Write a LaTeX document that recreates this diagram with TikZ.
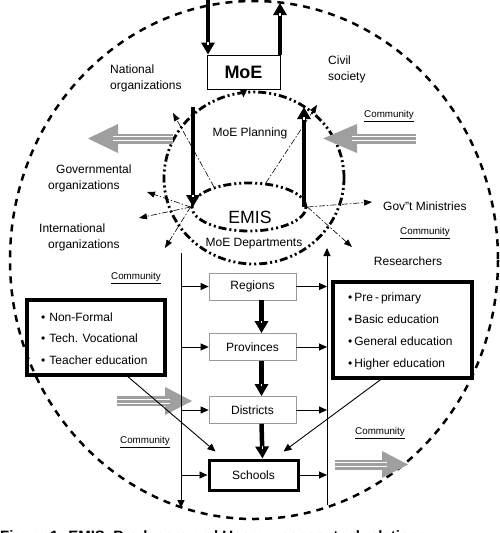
\documentclass[tikz,border=0pt]{standalone}
\usepackage{fontspec}
\setmainfont{Liberation Sans}
\usetikzlibrary{arrows.meta, shapes.geometric, positioning}

\tikzset{
  boundary/.style={line width=2.5pt, dash pattern=on 7pt off 6pt},
  ring/.style={draw, line width=2.8pt, dash pattern=on 8pt off 3pt on 2pt off 3pt on 2pt off 3pt},
  lbl/.style={font=\fontsize{12}{16}\selectfont, inner sep=0pt},
  commlbl/.style={font=\fontsize{9.8}{11}\selectfont, inner sep=0pt},
  moebox/.style={draw, line width=0.8pt, minimum width=73pt, minimum height=34pt, inner sep=0pt, font=\bfseries\fontsize{18}{20}\selectfont},
  levelbox/.style={draw=gray!80, line width=0.7pt, minimum width=87pt, minimum height=27pt, inner sep=0pt, font=\fontsize{12}{14}\selectfont},
  schoolbox/.style={draw=black, line width=3pt, minimum width=89pt, minimum height=30pt},
  listbox/.style={draw, line width=3.5pt, inner sep=0pt},
  bigarrow/.style={line width=4.5pt, -{Triangle[length=12pt, width=13pt]}},
  levelarrow/.style={line width=4.5pt, -{Triangle[length=12pt, width=13pt]}},
  thinarrow/.style={line width=0.9pt, -{Triangle[length=8pt, width=7pt]}},
  linkarrow/.style={line width=0.6pt, dash pattern=on 6pt off 2pt on 1.5pt off 2pt, -{Triangle[length=8pt, width=6pt]}},
  commgray/.style={fill=gray!75},
  commstripe/.style={draw=white, line width=0.9pt},
  notch/.style={draw=white, line width=1.6pt},
}

\begin{document}
\begin{tikzpicture}[x=1pt, y=-1pt]
  \useasboundingbox (0,0) rectangle (500,533);
  \clip (0,0) rectangle (500,533);

  % outer boundary
  \draw[boundary] (254,260) ellipse [x radius=244, y radius=259];

  % MoE
  \node[moebox] (moe) at (243.5,72) {MoE};
  \coordinate (inflow) at (208,-5);
  \coordinate (outflow) at (280,3);
  \draw[bigarrow] (inflow) -- (inflow |- moe.north);
  \draw[bigarrow] (outflow |- moe.north) -- (outflow);
  \draw[notch] ([yshift=12.5pt]inflow |- moe.north) -- ++(0,2.5);
  \draw[notch] ([yshift=-12.5pt]outflow) -- ++(0,-2.5);

  % MoE planning ring
  \node[ring, ellipse, minimum width=180pt, minimum height=172pt] (plan) at (254,178) {};
  \node[lbl] (planning) at (250,133) {MoE Planning};
  \draw[thinarrow] (moe.south) -- ++(0,8);

  % EMIS ring
  \node[ring, ellipse, minimum width=114pt, minimum height=48pt] (emisring) at (249,207) {};
  \node[font=\fontsize{17.7}{18}\selectfont, inner sep=0pt] (emis) at (250,217) {EMIS};
  \node[lbl] (depts) at (254,244) {MoE Departments};

  \coordinate (plandown) at (193,107);
  \coordinate (planup) at (304,107);
  \draw[bigarrow] (plandown) -- (plandown |- emisring.west);
  \draw[bigarrow] (planup |- emisring.east) -- (planup);
  \draw[notch] ([yshift=12.5pt]plandown |- emisring.west) -- ++(0,2.5);
  \draw[notch] ([yshift=-12.5pt]planup) -- ++(0,-2.5);

  % links out of EMIS
  \coordinate (natl) at (173,113);
  \coordinate (govl) at (147,192);
  \coordinate (intl) at (139,218);
  \coordinate (downl) at (165,248);
  \coordinate (civr) at (317,105);
  \coordinate (minr) at (372,202);
  \coordinate (downr) at (352,247);
  \draw[linkarrow] (emisring.150) -- (natl);
  \draw[linkarrow] (emisring.west) -- (govl);
  \draw[linkarrow] (emisring.west) -- (intl);
  \draw[linkarrow] (emisring.west) -- (downl);
  \draw[linkarrow] (emisring.55) -- (civr);
  \draw[linkarrow] (emisring.east) -- (minr);
  \draw[linkarrow] (emisring.east) -- (downr);

  % outside labels
  \node[lbl, anchor=west, align=left] (national) at (110,78) {National\\organizations};
  \node[lbl, anchor=west, align=left] (civil) at (328,69) {Civil\\society};
  \node[lbl, anchor=west, align=left] (governmental) at (48,178) {\hspace*{8pt}Governmental\\organizations};
  \node[lbl, anchor=west, align=left] (international) at (39,237) {International\\\hspace*{9pt}organizations};
  \node[lbl, anchor=west] (ministries) at (383,206) {Gov"t Ministries};
  \node[lbl] (researchers) at (408,261) {Researchers};

  \node[commlbl] (comm1) at (389,116) {\underline{Community}};
  \node[commlbl] (comm2) at (425,233) {\underline{Community}};
  \node[commlbl] (comm3) at (136,278) {\underline{Community}};
  \node[commlbl] (comm4) at (145,442) {\underline{Community}};
  \node[commlbl] (comm5) at (380,433) {\underline{Community}};

  % community arrows
  \fill[commgray] (118,133.5) rectangle (173,143.5);
  \fill[commgray] (88,138.5) -- (118,124) -- (118,153) -- cycle;
  \draw[commstripe] (113,136.5) -- (173,136.5) (113,140.5) -- (173,140.5);

  \fill[commgray] (357,133.5) rectangle (416,143.5);
  \fill[commgray] (323,138.5) -- (357,124) -- (357,153) -- cycle;
  \draw[commstripe] (352,136.5) -- (416,136.5) (352,140.5) -- (416,140.5);

  \fill[commgray] (117,396) rectangle (165,406);
  \fill[commgray] (192,401) -- (165,387) -- (165,415) -- cycle;
  \draw[commstripe] (117,399) -- (170,399) (117,403) -- (170,403);

  \fill[commgray] (335,459.5) rectangle (382,469.5);
  \fill[commgray] (408,464.5) -- (382,451) -- (382,478) -- cycle;
  \draw[commstripe] (335,462.5) -- (387,462.5) (335,466.5) -- (387,466.5);

  % levels
  \node[levelbox] (regions) at (252.5,286.5) {Regions};
  \node[levelbox] (provinces) at (252.5,347) {Provinces};
  \node[levelbox] (districts) at (252.5,410) {Districts};
  \node[levelbox, schoolbox] (schools) at (253.5,475) {Schools};

  \draw[levelarrow] ([xshift=9pt]regions.south) -- ([xshift=9pt]provinces.north);
  \draw[levelarrow] ([xshift=9pt]provinces.south) -- ([xshift=9pt]districts.north);
  \draw[levelarrow] ([xshift=9pt]districts.south) -- ([xshift=9pt]schools.north);
  \draw[notch] ([shift={(9pt,12.5pt)}]provinces.north) -- ++(0,2.5);
  \draw[notch] ([shift={(9pt,12.5pt)}]districts.north) -- ++(0,2.5);
  \draw[notch] ([shift={(9pt,12.5pt)}]schools.north) -- ++(0,2.5);

  % flows down and back
  \coordinate (flowtop) at (181,253);
  \coordinate (flowbot) at (181,508);
  \coordinate (backbot) at (327,505);
  \coordinate (backtop) at (327,248);
  \draw[thinarrow] (flowtop) -- (flowbot);
  \draw[thinarrow] (backbot) -- (backtop);

  \draw[thinarrow] (flowtop |- regions.west) -- (regions.west);
  \draw[thinarrow] (flowtop |- provinces.west) -- (provinces.west);
  \draw[thinarrow] (flowtop |- districts.west) -- (districts.west);
  \draw[thinarrow] (flowtop |- schools.west) -- (schools.west);
  \draw[thinarrow] (regions.east) -- (backtop |- regions.east);
  \draw[thinarrow] (provinces.east) -- (backtop |- provinces.east);
  \draw[thinarrow] (districts.east) -- (backtop |- districts.east);
  \draw[thinarrow] (schools.east) -- (backtop |- schools.east);

  % education sub-sectors
  \node[listbox, minimum width=138pt, minimum height=75pt] (otherbox) at (96,337.5) {};
  \node[anchor=west, align=left, inner sep=0pt, font=\fontsize{12}{21.5}\selectfont] (otherlist) at (41,338.5)
    {\textbullet\hspace{4pt}Non-Formal\\\textbullet\hspace{4pt}Tech. Vocational\\\textbullet\hspace{4pt}Teacher education};
  \node[listbox, minimum width=139pt, minimum height=96pt] (levelsbox) at (402.5,330) {};
  \node[anchor=west, align=left, inner sep=0pt, font=\fontsize{12}{22}\selectfont] (levelslist) at (348,331)
    {\textbullet\hspace{2pt}Pre\,-\,primary\\\textbullet\hspace{2pt}Basic education\\\textbullet\hspace{2pt}General education\\\textbullet\hspace{2pt}Higher education};

  \draw[thinarrow] ([xshift=32pt]otherbox.south) -- ([shift={(8pt,7pt)}]schools.north west);
  \draw[thinarrow] ([xshift=-22pt]levelsbox.south) -- ([shift={(-16pt,7pt)}]schools.north east);

  % caption
  \node[anchor=base west, inner sep=0pt, font=\bfseries\fontsize{15}{16}\selectfont] (caption) at (0,541)
    {Figure 1. EMIS, Producers and Users -- conceptual relations};
\end{tikzpicture}
\end{document}
